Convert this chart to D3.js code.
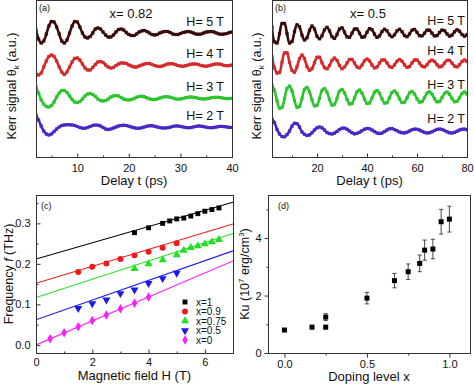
<!DOCTYPE html>
<html>
<head>
<meta charset="utf-8">
<script src="https://cdnjs.cloudflare.com/ajax/libs/d3/7.8.5/d3.min.js"></script>
<style>
  body { margin: 0; background: #fff; }
  text { font-family: "Liberation Sans", Arial, sans-serif; fill: #111; }
</style>
</head>
<body>
<div id="chart"></div>
<script>
// Kerr traces, TR-MOKE panels (a) x=0.82 and (b) x=0.5, plus frequency / anisotropy panels

// ---- panel (a): delay 2..40 ps every 0.5 ps, signal in a.u. around each offset
const timesA = d3.range(2, 40.001, 0.5);
const kerrA5 = [0.3,-0.6,-1.0,-0.8,-0.1,0.7,1.15,1.1,0.6,-0.1,
  -0.8,-1.0,-0.7,0.0,0.7,1.15,1.1,0.6,0.0,-0.4,
  -0.5,-0.35,0.0,0.4,0.5,0.4,0.1,-0.2,-0.4,-0.4,
  -0.2,0.1,0.35,0.4,0.3,0.05,-0.15,-0.25,-0.25,-0.1,
  0.1,0.2,0.25,0.15,0.0,-0.15,-0.2,-0.15,0.0,0.1,
  0.15,0.15,0.05,-0.1,-0.15,-0.15,-0.05,0.05,0.1,0.15,
  0.1,0.0,-0.1,-0.12,-0.1,0.0,0.1,0.12,0.15,0.1,
  0.0,-0.1,-0.12,-0.1,-0.05,0.05,0.1];
const kerrA4 = [-0.9,-1.0,-0.8,-0.2,0.4,0.85,1.0,0.85,0.4,-0.2,
  -0.7,-0.95,-0.7,-0.2,0.3,0.65,0.7,0.5,0.1,-0.3,
  -0.5,-0.5,-0.25,0.05,0.3,0.35,0.25,0.0,-0.2,-0.3,
  -0.25,-0.05,0.1,0.2,0.2,0.15,0.0,-0.1,-0.2,-0.2,
  -0.1,0.0,0.1,0.15,0.15,0.05,-0.05,-0.12,-0.15,-0.1,
  0.0,0.1,0.12,0.12,0.05,-0.05,-0.1,-0.12,-0.08,0.0,
  0.08,0.1,0.1,0.05,-0.05,-0.1,-0.12,-0.08,0.0,0.08,
  0.1,0.1,0.05,-0.05,-0.08,-0.05,0.0];
const kerrA3 = [1.1,0.5,-0.2,-0.6,-0.85,-0.9,-0.75,-0.4,0.1,0.5,
  0.75,0.75,0.55,0.2,-0.15,-0.4,-0.45,-0.35,-0.1,0.2,
  0.4,0.45,0.35,0.15,-0.1,-0.25,-0.3,-0.25,-0.1,0.1,
  0.2,0.25,0.2,0.05,-0.1,-0.18,-0.2,-0.15,-0.05,0.08,
  0.15,0.18,0.12,0.02,-0.08,-0.14,-0.15,-0.1,0.0,0.08,
  0.12,0.12,0.08,0.0,-0.08,-0.12,-0.1,-0.05,0.03,0.08,
  0.1,0.08,0.03,-0.03,-0.08,-0.1,-0.08,-0.03,0.03,0.06,
  0.08,0.06,0.02,-0.03,-0.06,-0.06,-0.03];
const kerrA2 = [1.2,0.7,0.1,-0.4,-0.7,-0.8,-0.7,-0.45,-0.2,0.0,
  0.15,0.2,0.22,0.22,0.2,0.15,0.05,-0.05,-0.12,-0.12,
  -0.05,0.05,0.15,0.2,0.18,0.1,-0.05,-0.2,-0.25,-0.2,
  -0.1,0.0,0.1,0.15,0.18,0.15,0.08,0.0,-0.08,-0.12,
  -0.12,-0.08,0.0,0.08,0.12,0.12,0.08,0.0,-0.05,-0.1,
  -0.1,-0.08,-0.02,0.05,0.1,0.1,0.06,0.0,-0.05,-0.08,
  -0.06,0.0,0.06,0.1,0.08,0.04,-0.02,-0.06,-0.08,-0.05,
  0.0,0.05,0.06,0.04,0.0,-0.04,-0.05];
const offsetsA = [12.4, 9.2, 5.9, 3.0];

// ---- panel (b): delay 2..80 ps every 1 ps
const timesB = d3.range(2, 80.001, 1);
const kerrB5 = [0.6,-0.88,-1.0,-0.06,0.95,0.95,-0.06,-1.0,-0.85,0.14,
  0.82,0.62,-0.22,-0.7,-0.47,0.26,0.7,0.4,-0.32,-0.58,
  -0.27,0.32,0.57,0.21,-0.36,-0.54,-0.15,0.4,0.52,0.08,
  -0.38,-0.43,-0.02,0.4,0.4,-0.02,-0.42,-0.37,0.07,0.44,
  0.33,-0.12,-0.44,-0.29,0.14,0.38,0.21,-0.18,-0.38,-0.18,
  0.21,0.38,0.14,-0.25,-0.37,-0.1,0.28,0.36,0.06,-0.26,
  -0.29,-0.02,0.28,0.28,-0.02,-0.29,-0.26,0.05,0.3,0.23,
  -0.09,-0.31,-0.21,0.12,0.32,0.18,-0.15,-0.32,-0.15];
const kerrB4 = [0.68,-0.43,-0.95,-0.9,0.14,1.06,1.06,0.11,-0.67,-0.87,
  -0.32,0.48,0.85,0.48,-0.3,-0.68,-0.52,0.08,0.62,0.62,
  0.08,-0.41,-0.53,-0.2,0.31,0.55,0.31,-0.2,-0.53,-0.34,
  0.05,0.4,0.4,0.05,-0.34,-0.44,-0.16,0.26,0.45,0.26,
  -0.16,-0.44,-0.34,0.05,0.35,0.35,0.05,-0.3,-0.39,-0.14,
  0.23,0.4,0.23,-0.14,-0.39,-0.3,0.05,0.35,0.35,0.04,
  -0.26,-0.34,-0.12,0.2,0.35,0.2,-0.12,-0.34,-0.26,0.04,
  0.31,0.31,0.04,-0.26,-0.34,-0.12,0.2,0.35,0.2];
const kerrB3 = [1.2,0.66,-0.37,-1.12,-1.03,-0.16,0.83,1.1,0.61,-0.34,
  -1.03,-0.94,-0.15,0.76,0.95,0.52,-0.29,-0.89,-0.82,-0.13,
  0.66,0.85,0.47,-0.26,-0.8,-0.73,-0.12,0.59,0.75,0.41,
  -0.23,-0.7,-0.64,-0.1,0.52,0.7,0.39,-0.21,-0.66,-0.6,
  -0.1,0.48,0.65,0.36,-0.2,-0.61,-0.56,-0.09,0.45,0.6,
  0.33,-0.18,-0.56,-0.52,-0.08,0.41,0.55,0.3,-0.17,-0.51,
  -0.47,-0.07,0.38,0.52,0.29,-0.16,-0.49,-0.45,-0.07,0.36,
  0.5,0.28,-0.15,-0.47,-0.43,-0.07,0.35,0.5,0.28];
const kerrB2 = [1.19,0.85,0.16,-0.3,-0.55,-0.58,-0.37,0.0,0.49,0.77,
  0.74,0.4,-0.1,-0.32,-0.45,-0.39,-0.17,0.1,0.32,0.4,
  0.32,0.1,-0.15,-0.26,-0.3,-0.21,-0.04,0.15,0.28,0.29,
  0.18,0.0,-0.18,-0.29,-0.23,-0.13,0.03,0.18,0.25,0.22,
  0.1,-0.06,-0.2,-0.25,-0.2,-0.06,0.1,0.22,0.25,0.14,
  0.03,-0.1,-0.18,-0.19,-0.12,0.0,0.12,0.19,0.18,0.1,
  -0.03,-0.14,-0.2,-0.17,-0.08,0.05,0.16,0.2,0.16,0.05,
  -0.08,-0.17,-0.2,-0.14,-0.03,0.1,0.18,0.19,0.12];
const offsetsB = [12.4, 9.35, 6.0, 2.6];

const fieldLabels = ["H= 5 T", "H= 4 T", "H= 3 T", "H= 2 T"];
const traceColors = ["#3a0b0b", "#d42a2a", "#2ec42e", "#4a28c6"];

// ---- panel (c): precession frequency vs field, with linear fits
const seriesNames = ["x=1", "x=0.9", "x=0.75", "x=0.5", "x=0"];
const fieldH = [
  [3.5, 4, 4.5, 4.75, 5, 5.25, 5.5, 5.75, 6, 6.25, 6.5],
  [1.5, 2, 2.5, 3, 3.5, 4, 4.5, 5],
  [3.5, 4, 4.5, 5, 5.25, 5.5, 5.75, 6, 6.25, 6.5],
  [1.5, 2, 2.5, 3, 3.5, 4, 4.5, 5],
  [0.5, 1, 1.5, 2, 2.5, 3, 3.5, 4]
];
const freqTHz = [
  [0.277, 0.289, 0.300, 0.306, 0.311, 0.313, 0.318, 0.324, 0.330, 0.334, 0.338],
  [0.180, 0.193, 0.201, 0.212, 0.221, 0.230, 0.240, 0.251],
  [0.188, 0.200, 0.210, 0.222, 0.233, 0.240, 0.244, 0.249, 0.254, 0.260],
  [0.090, 0.102, 0.111, 0.127, 0.136, 0.152, 0.164, 0.177],
  [0.015, 0.030, 0.045, 0.060, 0.074, 0.089, 0.103, 0.118]
];
const fitIntercept = [0.212, 0.152, 0.117, 0.062, 0.0];
const fitSlope = [0.0200, 0.0209, 0.0226, 0.0243, 0.0296];
const freqColors = ["#000000", "#f01818", "#22e022", "#1a1aee", "#ff1cff"];

// ---- panel (d): anisotropy vs doping
const doping = [0, 0.167, 0.25, 0.25, 0.5, 0.667, 0.75, 0.82, 0.85, 0.9, 0.95, 1.0];
const kuVal = [0.8, 0.9, 0.9, 1.25, 1.91, 2.52, 2.83, 3.12, 3.58, 3.62, 4.57, 4.66];
const kuErr = [0.05, 0.06, 0.06, 0.12, 0.2, 0.25, 0.27, 0.29, 0.35, 0.34, 0.43, 0.45];

const svg = d3.select("#chart").append("svg")
  .attr("width", 474)
  .attr("height", 386)
  .style("display", "block");

svg.append("rect").attr("width", 474).attr("height", 386).attr("fill", "#fff");

let clipId = 0;
function frame(x, y) {
  const [x0, x1] = x.range();
  const [y1, y0] = y.range();
  const id = "clip" + (clipId++);
  svg.append("clipPath").attr("id", id)
    .append("rect").attr("x", x0).attr("y", y0).attr("width", x1 - x0).attr("height", y1 - y0);
  return id;
}
function box(x, y) {
  const [x0, x1] = x.range();
  const [y1, y0] = y.range();
  svg.append("rect")
    .attr("x", x0 + 0.5).attr("y", y0 + 0.5)
    .attr("width", x1 - x0).attr("height", y1 - y0)
    .attr("fill", "none").attr("stroke", "#333").attr("stroke-width", 1);
}
function cleanAxis(g) {
  g.select(".domain").remove();
  g.selectAll("line").attr("stroke", "#333");
  g.selectAll("text").attr("font-size", 11).attr("fill", "#111")
    .attr("font-family", '"Liberation Sans", Arial, sans-serif');
}

function kerrPanel(opts) {
  const x = d3.scaleLinear().domain(opts.domain).range(opts.range);
  const y = d3.scaleLinear().domain([0, 15.7]).range([157, 0]);
  const clip = frame(x, y);

  svg.append("g").attr("transform", "translate(0,157.5)")
    .call(d3.axisBottom(x).tickValues(opts.major).tickSize(-4).tickPadding(7).tickFormat(d3.format("d")))
    .call(cleanAxis);
  svg.append("g").attr("transform", "translate(0,157.5)")
    .call(d3.axisBottom(x).tickValues(opts.minor).tickSize(-2).tickFormat(""))
    .call(cleanAxis);

  const plot = svg.append("g").attr("clip-path", `url(#${clip})`);
  opts.traces.forEach((vals, k) => {
    const off = opts.offsets[k];
    const line = d3.line()
      .x((d, i) => x(opts.times[i]))
      .y(d => y(off + d))
      .curve(d3.curveCatmullRom);
    plot.append("path").datum(vals)
      .attr("d", line)
      .attr("fill", "none")
      .attr("stroke", traceColors[k])
      .attr("stroke-width", 2.6)
      .attr("stroke-linejoin", "round");
    plot.selectAll(null).data(vals).join("rect")
      .attr("x", (d, i) => x(opts.times[i]) - 1.6)
      .attr("y", d => y(off + d) - 1.6)
      .attr("width", 3.2).attr("height", 3.2)
      .attr("fill", traceColors[k]);

    svg.append("text")
      .attr("x", opts.labelRight)
      .attr("y", y(off + opts.labelLift))
      .attr("text-anchor", "end")
      .attr("font-size", 12.5)
      .text(fieldLabels[k]);
  });

  box(x, y);

  svg.append("text").attr("x", opts.range[0] + 3).attr("y", 11)
    .attr("font-size", 9).text(opts.tag);
  svg.append("text").attr("x", opts.dopingX).attr("y", 18)
    .attr("text-anchor", "middle").attr("font-size", 13).text(opts.dopingText);

  svg.append("text")
    .attr("x", (opts.range[0] + opts.range[1]) / 2).attr("y", 185)
    .attr("text-anchor", "middle").attr("font-size", 13)
    .text("Delay t (ps)");

  const yl = svg.append("text")
    .attr("transform", `translate(${opts.ylabelX},86) rotate(-90)`)
    .attr("text-anchor", "middle").attr("font-size", 12.5);
  yl.append("tspan").text("Kerr signal \u03b8");
  yl.append("tspan").attr("font-size", 8).attr("dy", 3).text("k");
  yl.append("tspan").attr("dy", -3).text(" (a.u.)");
}

kerrPanel({
  domain: [2, 40], range: [36, 232], times: timesA,
  traces: [kerrA5, kerrA4, kerrA3, kerrA2], offsets: offsetsA,
  major: [10, 20, 30, 40], minor: [5, 15, 25, 35],
  labelRight: 224, labelLift: 0.7, tag: "(a)",
  dopingText: "x= 0.82", dopingX: 131, ylabelX: 16
});
kerrPanel({
  domain: [2, 80], range: [272, 467], times: timesB,
  traces: [kerrB5, kerrB4, kerrB3, kerrB2], offsets: offsetsB,
  major: [20, 40, 60, 80], minor: [10, 30, 50, 70],
  labelRight: 465, labelLift: 0.85, tag: "(b)",
  dopingText: "x= 0.5", dopingX: 368, ylabelX: 261
});

// ---- panel (c)
{
  const x = d3.scaleLinear().domain([0, 7]).range([36, 233]);
  const y = d3.scaleLinear().domain([-0.02, 0.37]).range([353, 195]);
  const clip = frame(x, y);

  svg.append("g").attr("transform", "translate(0,353.5)")
    .call(d3.axisBottom(x).tickValues([0, 2, 4, 6]).tickSize(-4).tickPadding(5).tickFormat(d3.format("d")))
    .call(cleanAxis);
  svg.append("g").attr("transform", "translate(0,353.5)")
    .call(d3.axisBottom(x).tickValues([1, 3, 5]).tickSize(-2).tickFormat(""))
    .call(cleanAxis);
  svg.append("g").attr("transform", "translate(36.5,0)")
    .call(d3.axisLeft(y).tickValues([0, 0.1, 0.2, 0.3]).tickSize(-4).tickPadding(6).tickFormat(d3.format(".1f")))
    .call(cleanAxis);
  svg.append("g").attr("transform", "translate(36.5,0)")
    .call(d3.axisLeft(y).tickValues([0.05, 0.15, 0.25, 0.35]).tickSize(-2).tickFormat(""))
    .call(cleanAxis);

  const symbols = [
    d3.symbol().type(d3.symbolSquare).size(24),
    d3.symbol().type(d3.symbolCircle).size(28),
    d3.symbol().type(d3.symbolTriangle).size(28),
    d3.symbol().type(d3.symbolTriangle).size(28),
    d3.symbol().type(d3.symbolDiamond).size(26)
  ];
  const rot = [0, 0, 0, 180, 0];

  const plot = svg.append("g").attr("clip-path", `url(#${clip})`);
  seriesNames.forEach((name, k) => {
    const fit = d3.line()
      .x(h => x(h))
      .y(h => y(fitIntercept[k] + fitSlope[k] * h));
    plot.append("path").datum(x.domain())
      .attr("d", fit)
      .attr("fill", "none")
      .attr("stroke", freqColors[k])
      .attr("stroke-width", 1.1);
    plot.selectAll(null).data(freqTHz[k]).join("path")
      .attr("d", symbols[k])
      .attr("transform", (d, i) => `translate(${x(fieldH[k][i])},${y(d)}) rotate(${rot[k]})`)
      .attr("fill", freqColors[k]);
  });

  // legend
  const lg = svg.append("g");
  seriesNames.forEach((name, k) => {
    const ly = 302 + k * 9.5;
    lg.append("path").attr("d", symbols[k])
      .attr("transform", `translate(185,${ly}) rotate(${rot[k]})`)
      .attr("fill", freqColors[k]);
    lg.append("text").attr("x", 196).attr("y", ly + 3.5)
      .attr("font-size", 10).text(name);
  });

  box(x, y);
  svg.append("text").attr("x", 41).attr("y", 209).attr("font-size", 9).text("(c)");
  svg.append("text").attr("x", 134.5).attr("y", 380)
    .attr("text-anchor", "middle").attr("font-size", 13)
    .text("Magnetic field H (T)");
  const yl = svg.append("text")
    .attr("transform", "translate(13,274) rotate(-90)")
    .attr("text-anchor", "middle").attr("font-size", 12.5);
  yl.append("tspan").text("Frequency ");
  yl.append("tspan").attr("font-style", "italic").text("f");
  yl.append("tspan").text(" (THz)");
}

// ---- panel (d)
{
  const x = d3.scaleLinear().domain([-0.1, 1.125]).range([268, 470]);
  const y = d3.scaleLinear().domain([0, 5.5]).range([353, 195]);

  svg.append("g").attr("transform", "translate(0,353.5)")
    .call(d3.axisBottom(x).tickValues([0, 0.5, 1.0]).tickSize(4).tickPadding(3).tickFormat(d3.format(".1f")))
    .call(cleanAxis);
  svg.append("g").attr("transform", "translate(0,353.5)")
    .call(d3.axisBottom(x).tickValues([0.25, 0.75]).tickSize(2).tickFormat(""))
    .call(cleanAxis);
  svg.append("g").attr("transform", "translate(268.5,0)")
    .call(d3.axisLeft(y).tickValues([0, 2, 4]).tickSize(4).tickPadding(3).tickFormat(d3.format("d")))
    .call(cleanAxis);
  svg.append("g").attr("transform", "translate(268.5,0)")
    .call(d3.axisLeft(y).tickValues([1, 3, 5]).tickSize(2).tickFormat(""))
    .call(cleanAxis);

  const pts = svg.append("g");
  doping.forEach((dx, i) => {
    const cx = x(dx);
    const lo = y(kuVal[i] - kuErr[i]);
    const hi = y(kuVal[i] + kuErr[i]);
    pts.append("line").attr("x1", cx).attr("x2", cx).attr("y1", lo).attr("y2", hi)
      .attr("stroke", "#333").attr("stroke-width", 0.9);
    [lo, hi].forEach(yy => pts.append("line")
      .attr("x1", cx - 2).attr("x2", cx + 2).attr("y1", yy).attr("y2", yy)
      .attr("stroke", "#333").attr("stroke-width", 0.9));
  });
  pts.selectAll(null).data(kuVal).join("rect")
    .attr("x", (d, i) => x(doping[i]) - 2.5)
    .attr("y", d => y(d) - 2.5)
    .attr("width", 5).attr("height", 5)
    .attr("fill", "#000");

  box(x, y);
  svg.append("text").attr("x", 278).attr("y", 209).attr("font-size", 9).text("(d)");
  svg.append("text").attr("x", 369).attr("y", 381)
    .attr("text-anchor", "middle").attr("font-size", 13)
    .text("Doping level x");
  const yl = svg.append("text")
    .attr("transform", "translate(249,274) rotate(-90)")
    .attr("text-anchor", "middle").attr("font-size", 12.5);
  yl.append("tspan").text("Ku (10");
  yl.append("tspan").attr("font-size", 8).attr("dy", -5).text("7");
  yl.append("tspan").attr("dy", 5).text(" erg/cm");
  yl.append("tspan").attr("font-size", 8).attr("dy", -5).text("3");
  yl.append("tspan").attr("dy", 5).text(")");
}
</script>
</body>
</html>
